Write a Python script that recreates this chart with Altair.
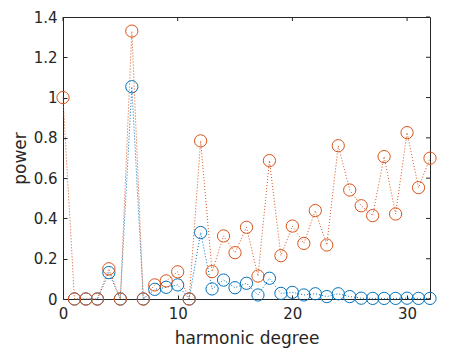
import altair as alt
import pandas as pd

orange_x = list(range(0, 33))
orange_y = [1.0, 0, 0, 0, 0.15, 0, 1.33, 0, 0.07, 0.09, 0.135, 0, 0.785, 0.136,
            0.313, 0.23, 0.356, 0.114, 0.687, 0.215, 0.362, 0.276, 0.439, 0.268,
            0.761, 0.541, 0.463, 0.414, 0.707, 0.422, 0.826, 0.553, 0.699]
blue_x = list(range(1, 33))
blue_y = [0, 0, 0, 0.131, 0, 1.054, 0, 0.048, 0.058, 0.07, 0, 0.33, 0.05, 0.094,
          0.056, 0.078, 0.02, 0.103, 0.028, 0.033, 0.02, 0.026, 0.012, 0.026,
          0.012, 0.004, 0.003, 0.003, 0.003, 0.004, 0.003, 0.003]
x_ticks = [0, 10, 20, 30]
y_ticks = [0, 0.2, 0.4, 0.6, 0.8, 1, 1.2, 1.4]

BLUE = "#0072BD"
ORANGE = "#D95319"
AX = "#262626"
FONT = "DejaVu Sans"

df_o = pd.DataFrame({"x": orange_x, "y": orange_y})
df_b = pd.DataFrame({"x": blue_x, "y": blue_y})

xs = alt.Scale(domain=[0, 32], nice=False, zero=False)
ys = alt.Scale(domain=[0, 1.4], nice=False)

xax = alt.Axis(values=x_ticks, title="harmonic degree", grid=False, domain=False,
               offset=-4, tickSize=4, tickColor=AX, labelPadding=7,
               labelFlush=False,
               labelFont=FONT, labelFontSize=15, labelColor=AX,
               titleFont=FONT, titleFontSize=17, titleFontWeight="normal",
               titleColor=AX, titlePadding=9)
yax = alt.Axis(values=y_ticks, title="power", grid=False, domain=False,
               offset=-4, tickSize=4, tickColor=AX, labelPadding=6,
               labelFlush=False,
               format="~g", labelFont=FONT, labelFontSize=15, labelColor=AX,
               titleFont=FONT, titleFontSize=17, titleFontWeight="normal",
               titleColor=AX, titlePadding=4)

X = alt.X("x:Q", scale=xs, axis=xax)
Y = alt.Y("y:Q", scale=ys, axis=yax)


def series(df, color):
    line = alt.Chart(df).mark_line(color=color, strokeDash=[1, 2],
                                   strokeWidth=1, clip=False).encode(x=X, y=Y)
    pts = alt.Chart(df).mark_point(shape="circle", filled=False, color=color,
                                   size=150, strokeWidth=1, opacity=1,
                                   clip=False).encode(x=X, y=Y)
    return [line, pts]


# top/right inward ticks
top = alt.Chart(pd.DataFrame({"x": x_ticks})).mark_rule(color=AX, strokeWidth=1).encode(
    x=X, y=alt.value(0), y2=alt.value(4))
right = alt.Chart(pd.DataFrame({"y": y_ticks})).mark_rule(color=AX, strokeWidth=1).encode(
    y=Y, x=alt.value(363), x2=alt.value(367))

layers = series(df_b, BLUE) + series(df_o, ORANGE) + [top, right]

chart = alt.layer(*layers).properties(
    width=367, height=282,
    autosize=alt.AutoSizeParams(type="none"),
    padding={"left": 63, "top": 17, "right": 44, "bottom": 56},
    background="white",
).configure_view(stroke=AX, strokeWidth=1)

chart.save("out.html", embed_options={"renderer": "svg", "actions": False})
